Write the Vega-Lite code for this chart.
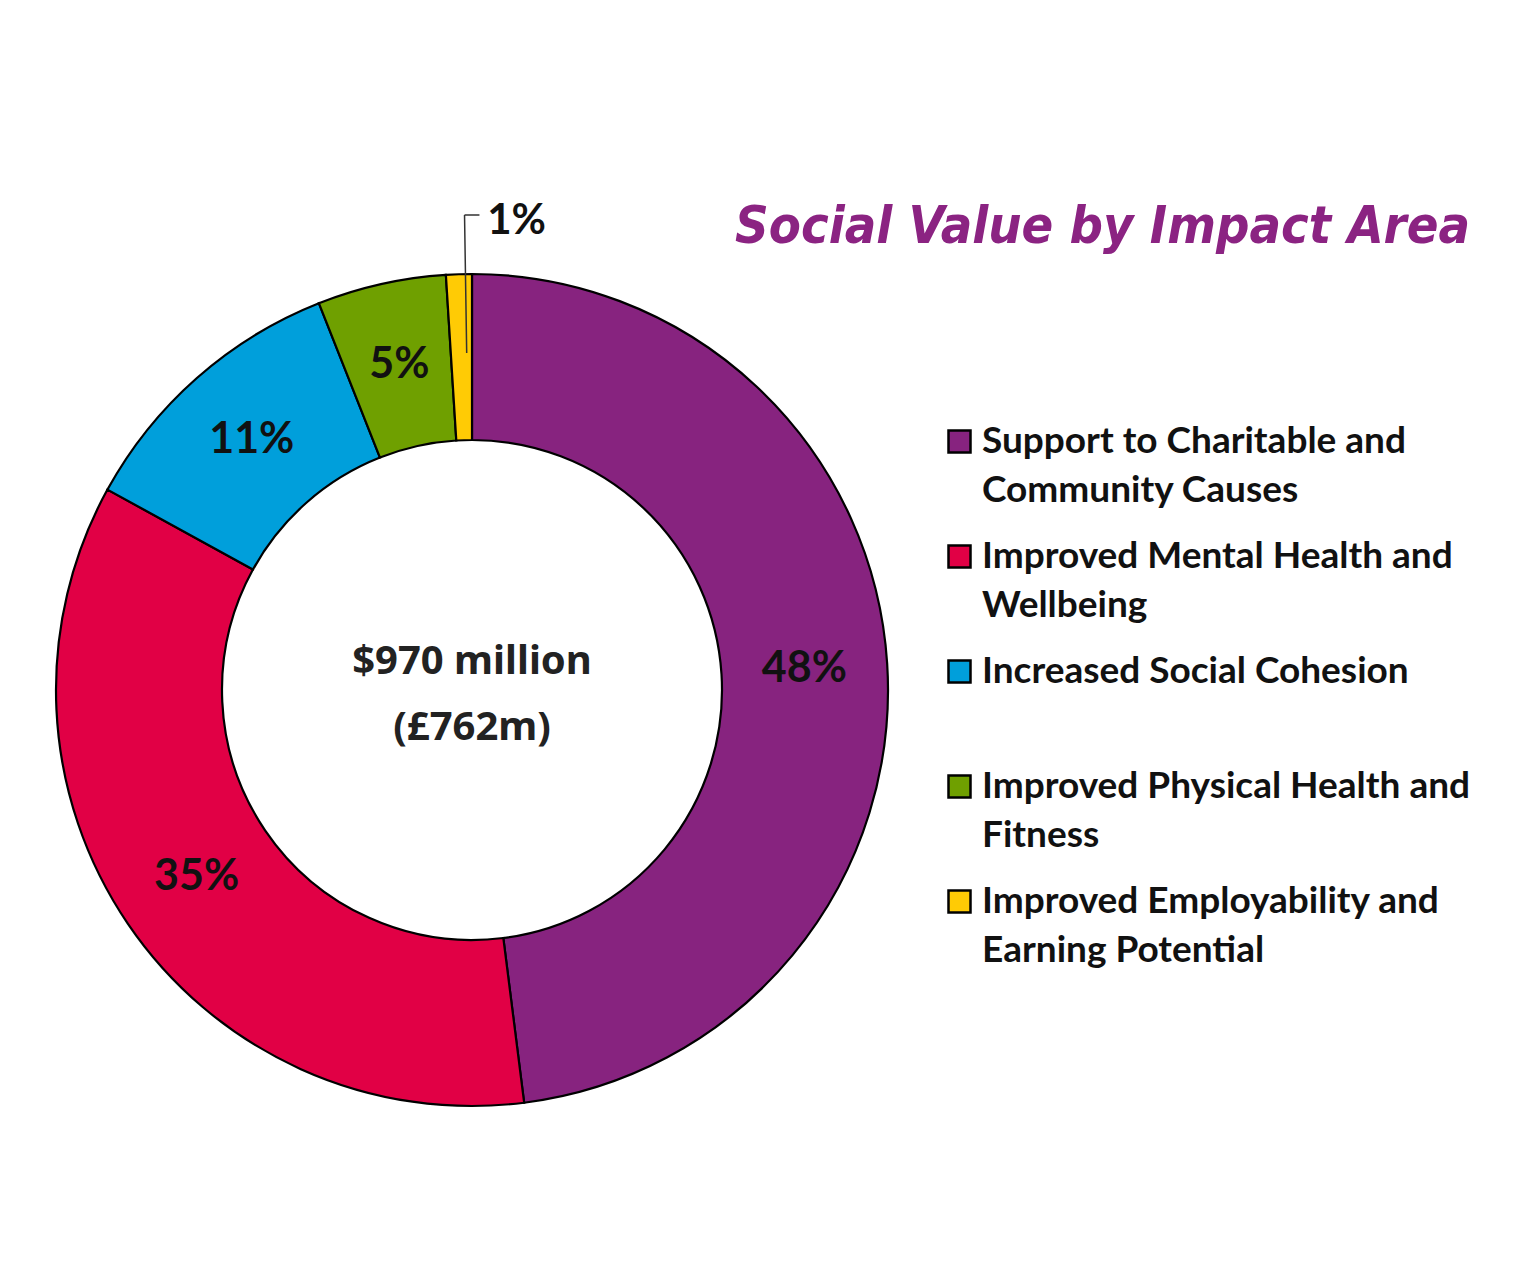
{
  "$schema": "https://vega.github.io/schema/vega-lite/v6.json",
  "autosize": {"type": "none"},
  "padding": {"top": 273, "left": 0, "right": 592, "bottom": 181},
  "width": 944,
  "height": 834,
  "background": "white",
  "config": {"view": {"stroke": null}},
  "title": {
    "text": "Social Value by Impact Area",
    "anchor": "end",
    "frame": "group",
    "dx": 526,
    "dy": 123,
    "offset": 28,
    "baseline": "alphabetic",
    "font": "DejaVu Sans Condensed, DejaVu Sans, sans-serif",
    "fontSize": 52,
    "fontStyle": "italic",
    "fontWeight": "bold",
    "color": "#8B2382"
  },
  "data": {
    "values": [
      {"area": "Support to Charitable and Community Causes", "pct": 48, "label": "48%", "order": 1},
      {"area": "Improved Mental Health and Wellbeing", "pct": 35, "label": "35%", "order": 2},
      {"area": "Increased Social Cohesion", "pct": 11, "label": "11%", "order": 3},
      {"area": "Improved Physical Health and Fitness", "pct": 5, "label": "5%", "order": 4},
      {"area": "Improved Employability and Earning Potential", "pct": 1, "label": "1%", "order": 5}
    ]
  },
  "layer": [
    {
      "mark": {"type": "arc", "radius": 416, "radius2": 250, "stroke": "black", "strokeWidth": 2.2},
      "encoding": {
        "theta": {"field": "pct", "type": "quantitative", "stack": true},
        "order": {"field": "order", "type": "quantitative"},
        "color": {
          "field": "area",
          "type": "nominal",
          "scale": {
            "domain": [
              "Support to Charitable and Community Causes",
              "Improved Mental Health and Wellbeing",
              "Increased Social Cohesion",
              "Improved Physical Health and Fitness",
              "Improved Employability and Earning Potential"
            ],
            "range": ["#87237F", "#E10045", "#009FDB", "#6FA000", "#FFCB05"]
          },
          "legend": {
            "orient": "none",
            "legendX": 941,
            "legendY": 150,
            "title": null,
            "padding": 0,
            "symbolType": "square",
            "symbolSize": 484,
            "symbolStrokeColor": "black",
            "symbolStrokeWidth": 2.5,
            "labelFont": "Lato",
            "labelFontSize": 37,
            "labelFontWeight": "bold",
            "labelColor": "#111111",
            "labelLimit": 700,
            "labelOffset": 4,
            "rowPadding": 28,
            "labelExpr": "indexof(datum.label, ' and ') > 0 ? [slice(datum.label, 0, indexof(datum.label, ' and ') + 4), slice(datum.label, indexof(datum.label, ' and ') + 5)] : [datum.label, ' ']",
            "encode": {
              "labels": {
                "update": {
                  "lineHeight": {"value": 49}
                }
              }
            }
          }
        }
      }
    },
    {
      "mark": {"type": "text", "radius": 333, "font": "Lato", "fontSize": 43, "fontWeight": "bold", "color": "#111111"},
      "encoding": {
        "theta": {"field": "pct", "type": "quantitative", "stack": true},
        "order": {"field": "order", "type": "quantitative"},
        "text": {"condition": {"test": "datum.pct >= 5", "field": "label"}, "value": ""}
      }
    },
    {
      "mark": {"type": "text", "radius": 472, "align": "left", "dx": 30, "dy": 3, "font": "Lato", "fontSize": 42, "fontWeight": "bold", "color": "#111111"},
      "encoding": {
        "theta": {"field": "pct", "type": "quantitative", "stack": true},
        "order": {"field": "order", "type": "quantitative"},
        "text": {"condition": {"test": "datum.pct < 5", "field": "label"}, "value": ""}
      }
    },
    {
      "mark": {"type": "arc", "radius": 475, "radius2": 337, "thetaOffset": 0.0157, "padAngle": 0.1, "fillOpacity": 0, "stroke": "#333333", "strokeWidth": 1.5},
      "encoding": {
        "theta": {"field": "pct", "type": "quantitative", "stack": true},
        "order": {"field": "order", "type": "quantitative"},
        "strokeOpacity": {"condition": {"test": "datum.pct < 5", "value": 1}, "value": 0}
      }
    },
    {
      "mark": {"type": "arc", "radius": 475, "radius2": 475, "thetaOffset": 0.0314, "padAngle": 0.0222, "fillOpacity": 0, "stroke": "#333333", "strokeWidth": 1.5},
      "encoding": {
        "theta": {"field": "pct", "type": "quantitative", "stack": true},
        "order": {"field": "order", "type": "quantitative"},
        "strokeOpacity": {"condition": {"test": "datum.pct < 5", "value": 1}, "value": 0}
      }
    },
    {
      "data": {"values": [{"caption": "$970 million\n(£762m)"}]},
      "mark": {"type": "text", "lineBreak": "\n", "lineHeight": 66, "dy": -28, "font": "Noto Sans", "fontSize": 40, "fontWeight": "bold", "color": "#222222"},
      "encoding": {"text": {"field": "caption", "type": "nominal"}}
    }
  ]
}
